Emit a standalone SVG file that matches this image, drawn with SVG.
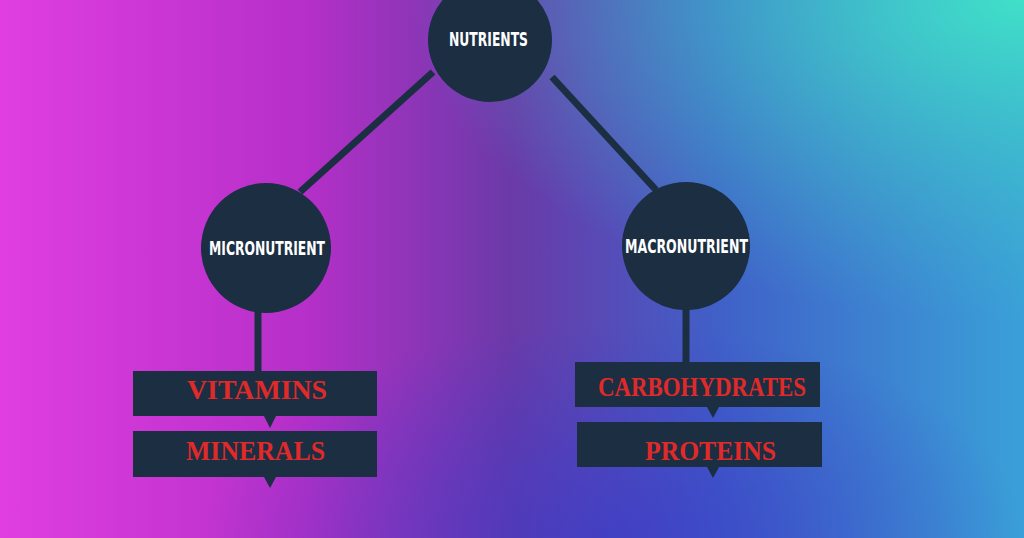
<svg xmlns="http://www.w3.org/2000/svg" width="1024" height="538" viewBox="0 0 1024 538">
<defs>
<linearGradient id="bg" x1="0" y1="0" x2="1" y2="0">
<stop offset="0" stop-color="#e03ee0"/>
<stop offset="0.3" stop-color="#b52fc8"/>
<stop offset="0.5" stop-color="#6a3aa8"/>
<stop offset="0.7" stop-color="#4060c8"/>
<stop offset="1" stop-color="#3aa0d8"/>
</linearGradient>
<radialGradient id="tr" cx="1" cy="0" r="0.6">
<stop offset="0" stop-color="#40e0c8"/>
<stop offset="1" stop-color="#40b8c8" stop-opacity="0"/>
</radialGradient>
<radialGradient id="bc" cx="0.6" cy="1" r="0.4">
<stop offset="0" stop-color="#3a3ac8" stop-opacity="0.7"/>
<stop offset="1" stop-color="#3a3ac8" stop-opacity="0"/>
</radialGradient>
<style>
.c{fill:#1b2e42}
.ct{font-family:"DejaVu Sans Condensed","Liberation Sans",sans-serif;font-weight:bold;font-size:20px;fill:#fff}
.bx{fill:#1b2e42}
.bt{font-family:"Liberation Serif",serif;font-weight:bold;font-size:27px;fill:#e02a2a}
.ln{stroke:#1b2e42;stroke-width:7;fill:none}
</style>
</defs>
<rect width="1024" height="538" fill="url(#bg)"/>
<rect width="1024" height="538" fill="url(#tr)"/>
<rect width="1024" height="538" fill="url(#bc)"/>
<g id="connectors">
<line class="ln" x1="433" y1="72" x2="300" y2="192"/>
<line class="ln" x1="552" y1="77" x2="656" y2="190"/>
<line class="ln" x1="258" y1="300" x2="258" y2="372"/>
<line class="ln" x1="686" y1="300" x2="686" y2="363"/>
</g>
<g id="nutrients"><circle class="c" cx="490" cy="40" r="62"/><text class="ct" x="449" y="46" textLength="79" lengthAdjust="spacingAndGlyphs">NUTRIENTS</text></g>
<g id="micronutrient"><circle class="c" cx="266" cy="248" r="65"/><text class="ct" x="209" y="255" textLength="116" lengthAdjust="spacingAndGlyphs">MICRONUTRIENT</text></g>
<g id="macronutrient"><circle class="c" cx="686" cy="246" r="64"/><text class="ct" x="625" y="253" textLength="123" lengthAdjust="spacingAndGlyphs">MACRONUTRIENT</text></g>
<g id="vitamins"><rect class="bx" x="133" y="371" width="244" height="45"/><polygon class="bx" points="264,416 276,416 270,428"/><text class="bt" x="187" y="399" textLength="140" lengthAdjust="spacingAndGlyphs">VITAMINS</text></g>
<g id="minerals"><rect class="bx" x="133" y="431" width="244" height="46"/><polygon class="bx" points="264,477 276,477 270,488"/><text class="bt" x="186" y="460" textLength="139" lengthAdjust="spacingAndGlyphs">MINERALS</text></g>
<g id="carbohydrates"><rect class="bx" x="575" y="362" width="245" height="45"/><polygon class="bx" points="707,407 719,407 713,418"/><text class="bt" x="598" y="396" textLength="208" lengthAdjust="spacingAndGlyphs">CARBOHYDRATES</text></g>
<g id="proteins"><rect class="bx" x="577" y="422" width="245" height="45"/><polygon class="bx" points="707,467 719,467 713,478"/><text class="bt" x="645" y="460" textLength="131" lengthAdjust="spacingAndGlyphs">PROTEINS</text></g>
</svg>
